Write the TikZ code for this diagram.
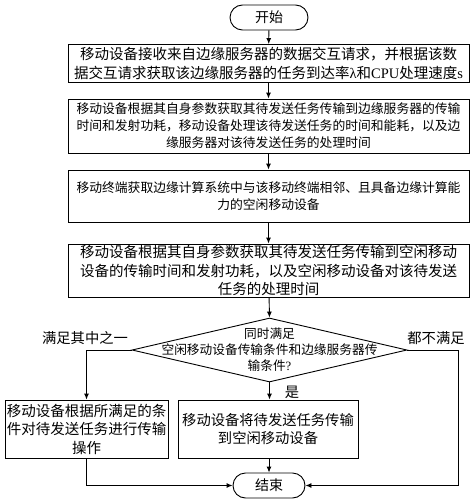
\documentclass[tikz,border=0pt]{standalone}
\usepackage{fontspec}
\setmainfont{Noto Sans CJK SC}
\newfontfamily\lat{Liberation Serif}
\usetikzlibrary{shapes.geometric,arrows.meta}
\tikzset{
  box/.style={draw, line width=0.9pt, rectangle, inner sep=0pt, align=center, text=black},
  term/.style={draw, line width=0.9pt, rectangle, rounded corners=12.5pt, inner sep=0pt, minimum height=25pt, font=\fontsize{14}{16}\selectfont},
  dia/.style={draw, line width=0.9pt, diamond, inner sep=0pt},
  flow/.style={line width=0.9pt, -{Latex[length=6pt,width=5pt]}},
  lbl/.style={inner sep=0pt, font=\fontsize{14.3}{17}\selectfont}
}
\begin{document}
\begin{tikzpicture}[x=1pt,y=-1pt]
\useasboundingbox (0,0) rectangle (474,503);
\node[term, minimum width=78pt] (start) at (269,17.5) {开始};
\node[box, minimum width=401pt, minimum height=38pt, font=\fontsize{14.5}{18.5}\selectfont] (b1) at (268.5,63.5)
  {移动设备接收来自边缘服务器的数据交互请求，并根据该数\\据交互请求获取该边缘服务器的任务到达率{\lat λ}和{\lat CPU}处理速度{\lat s}};
\node[box, minimum width=401pt, minimum height=54pt, font=\fontsize{12.8}{17}\selectfont] (b2) at (268.5,126)
  {移动设备根据其自身参数获取其待发送任务传输到边缘服务器的传输\\时间和发射功耗，移动设备处理该待发送任务的时间和能耗，以及边\\缘服务器对该待发送任务的处理时间};
\node[box, minimum width=401pt, minimum height=52pt, font=\fontsize{12.8}{17}\selectfont] (b3) at (268.5,196)
  {移动终端获取边缘计算系统中与该移动终端相邻、且具备边缘计算能\\力的空闲移动设备};
\node[box, minimum width=401pt, minimum height=53pt, font=\fontsize{14.5}{18.5}\selectfont] (b4) at (268.5,270.5)
  {移动设备根据其自身参数获取其待发送任务传输到空闲移动\\设备的传输时间和发射功耗，以及空闲移动设备对该待发送\\任务的处理时间};
\node[dia, minimum width=275pt, minimum height=64pt] (d) at (269.5,350) {};
\node[inner sep=0pt, align=center, font=\fontsize{12.7}{16}\selectfont] (dt) at (269.5,349.5)
  {同时满足\\空闲移动设备传输条件和边缘服务器传\\输条件{\lat ?}};
\node[box, minimum width=163pt, minimum height=58pt, font=\fontsize{14.5}{18.5}\selectfont] (lb) at (86.5,429)
  {移动设备根据所满足的条\\件对待发送任务进行传输\\操作};
\node[box, minimum width=180pt, minimum height=58pt, font=\fontsize{14.3}{18.5}\selectfont] (mb) at (268,429)
  {移动设备将待发送任务传输\\到空闲移动设备};
\node[term, minimum width=72pt] (end) at (269,485.5) {结束};
\coordinate (rc) at (458,350);
\node[lbl] (l1) at (85,338) {满足其中之一};
\node[lbl] (l2) at (436,338) {都不满足};
\node[lbl] (l3) at (292,392) {是};
\draw[flow] (start) -- (b1);
\draw[flow] (b1) -- (b2);
\draw[flow] (b2) -- (b3);
\draw[flow] (b3) -- (b4);
\draw[flow] (b4) -- (d.north);
\draw[flow] (d.south) -- (d.south |- mb.north);
\draw[flow] (d.west) -| (lb.north);
\draw[flow] (lb.south) |- (end.west);
\draw[flow] (mb.south -| end.north) -- (end.north);
\draw[flow] (d.east) -- (rc) |- (end.east);
\end{tikzpicture}
\end{document}
